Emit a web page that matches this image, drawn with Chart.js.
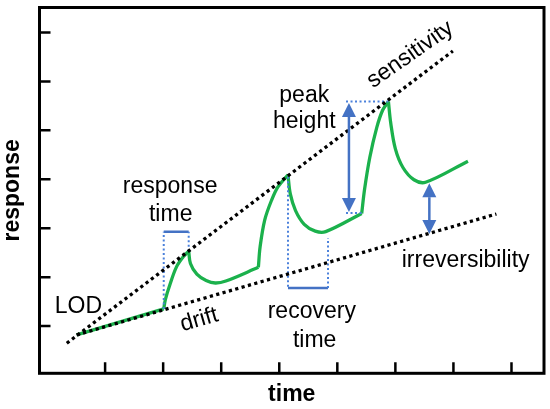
<!DOCTYPE html>
<html>
<head>
<meta charset="utf-8">
<script src="https://cdn.jsdelivr.net/npm/chart.js@4.4.1/dist/chart.umd.min.js"></script>
<style>
  html, body { margin: 0; padding: 0; background: #fff; }
  #wrap { width: 550px; height: 409px; }
</style>
</head>
<body>
<div id="wrap"><canvas id="chart"></canvas></div>
<script>
// tick positions (the original has tick marks but no tick labels)
const xTicks = [1, 2, 3, 4, 5, 6, 7, 8];
const yTicks = [1, 2, 3, 4, 5, 6, 7];

// green response trace, split at the sharp corners
const baseline = [[0.51, 0.82], [2.01, 1.35]];
const rise1 = [[2.01, 1.35], [2.04, 1.55], [2.12, 1.86], [2.23, 2.21], [2.35, 2.42], [2.44, 2.53]];
const decay1 = [[2.44, 2.53], [2.47, 2.28], [2.58, 2.06], [2.74, 1.93], [2.90, 1.88], [3.08, 1.92], [3.64, 2.20]];
const rise2 = [[3.64, 2.20], [3.67, 2.62], [3.75, 3.17], [3.87, 3.58], [3.98, 3.85], [4.15, 4.09]];
const decay2 = [[4.15, 4.09], [4.19, 3.70], [4.28, 3.36], [4.43, 3.08], [4.62, 2.94], [4.80, 2.93], [5.42, 3.30]];
const rise3 = [[5.42, 3.30], [5.47, 3.80], [5.56, 4.45], [5.68, 5.06], [5.78, 5.41], [5.88, 5.59]];
const decay3 = [[5.88, 5.59], [5.92, 5.15], [6.00, 4.62], [6.13, 4.24], [6.32, 3.99], [6.52, 3.94], [7.25, 4.37]];

// dotted reference lines
const sensitivity = [[0.34, 0.65], [6.99, 6.62]];
const drift = [[0.51, 0.82], [7.74, 3.29]];

// blue brackets
const respLeft = [[2.01, 1.35], [2.01, 2.93]];
const respRight = [[2.44, 2.53], [2.44, 2.93]];
const respTop = [[2.01, 2.93], [2.44, 2.93]];
const recLeft = [[4.15, 4.05], [4.15, 1.78]];
const recRight = [[4.84, 1.78], [4.84, 2.80]];
const recBottom = [[4.15, 1.78], [4.84, 1.78]];
const peakTop = [[5.15, 5.59], [5.88, 5.59]];
const peakBottom = [[5.15, 3.31], [5.42, 3.31]];

// double arrows: [x, top, bottom]
const peakArrow = [5.20, 5.56, 3.33];
const irrevArrow = [6.585, 3.92, 2.88];

// text labels (baseline centre, angle in degrees)
const notes = [
  { text: "response", x: 2.12, y: 3.72 },
  { text: "time", x: 2.13, y: 3.15 },
  { text: "peak", x: 4.43, y: 5.58 },
  { text: "height", x: 4.43, y: 5.05 },
  { text: "sensitivity", x: 6.32, y: 6.44, angle: -35 },
  { text: "LOD", x: 0.54, y: 1.27 },
  { text: "drift", x: 2.65, y: 1.00, angle: -16 },
  { text: "recovery", x: 4.56, y: 1.16 },
  { text: "time", x: 4.61, y: 0.57 },
  { text: "irreversibility", x: 7.21, y: 2.21 }
];

const GREEN = "#1bb14c";
const BLUE = "#4472c4";
const DOTBLUE = "#4a80db";
const FONT = '"Liberation Sans", Arial, sans-serif';

Chart.defaults.font.family = FONT;

const toXY = pts => pts.map(([x, y]) => ({ x, y }));

function trace(pts) {
    return { data: toXY(pts), borderColor: GREEN, borderWidth: 3.3, tension: 0.35,
             borderJoinStyle: "round", pointRadius: 0, showLine: true, fill: false };
}
function blackDots(pts) {
    return { data: toXY(pts), borderColor: "#000", borderWidth: 3.3, borderDash: [3.2, 3.4],
             pointRadius: 0, showLine: true, fill: false };
}
function blueDots(pts) {
    return { data: toXY(pts), borderColor: DOTBLUE, borderWidth: 2, borderDash: [2, 2.5],
             pointRadius: 0, showLine: true, fill: false };
}
function blueLine(pts) {
    return { data: toXY(pts), borderColor: BLUE, borderWidth: 2.5, pointRadius: 0, showLine: true, fill: false };
}

// frame, inward tick marks, arrows and labels
const decor = {
    id: "decor",
    afterDatasetsDraw(chart) {
        const { ctx, chartArea: a, scales: { x, y } } = chart;
        ctx.save();

        ctx.strokeStyle = "#000";
        ctx.lineWidth = 3;
        ctx.strokeRect(a.left, a.top, a.right - a.left, a.bottom - a.top);

        ctx.lineWidth = 2.5;
        ctx.beginPath();
        x.ticks.forEach(t => {
            const px = x.getPixelForValue(t.value);
            ctx.moveTo(px, a.bottom);
            ctx.lineTo(px, a.bottom - 11);
        });
        y.ticks.forEach(t => {
            const py = y.getPixelForValue(t.value);
            ctx.moveTo(a.left, py);
            ctx.lineTo(a.left + 11, py);
        });
        ctx.stroke();

        ctx.strokeStyle = BLUE;
        ctx.fillStyle = BLUE;
        [peakArrow, irrevArrow].forEach(([xv, y1, y2]) => {
            const px = x.getPixelForValue(xv);
            const top = y.getPixelForValue(y1);
            const bot = y.getPixelForValue(y2);
            const head = 14, half = 7;
            ctx.lineWidth = 2.5;
            ctx.beginPath();
            ctx.moveTo(px, top + head);
            ctx.lineTo(px, bot - head);
            ctx.stroke();
            ctx.beginPath();
            ctx.moveTo(px, top);
            ctx.lineTo(px - half, top + head);
            ctx.lineTo(px + half, top + head);
            ctx.closePath();
            ctx.fill();
            ctx.beginPath();
            ctx.moveTo(px, bot);
            ctx.lineTo(px - half, bot - head);
            ctx.lineTo(px + half, bot - head);
            ctx.closePath();
            ctx.fill();
        });

        ctx.fillStyle = "#000";
        ctx.font = "23px " + FONT;
        ctx.textAlign = "center";
        ctx.textBaseline = "alphabetic";
        notes.forEach(n => {
            ctx.save();
            ctx.translate(x.getPixelForValue(n.x), y.getPixelForValue(n.y));
            ctx.rotate((n.angle || 0) * Math.PI / 180);
            ctx.fillText(n.text, 0, 0);
            ctx.restore();
        });

        ctx.restore();
    }
};

new Chart(document.getElementById("chart"), {
    type: "scatter",
    data: {
        datasets: [
            blackDots(sensitivity),
            blackDots(drift),
            blueDots(respLeft), blueDots(respRight), blueLine(respTop),
            blueDots(recLeft), blueDots(recRight), blueLine(recBottom),
            blueDots(peakTop), blueDots(peakBottom),
            trace(baseline), trace(rise1), trace(decay1), trace(rise2),
            trace(decay2), trace(rise3), trace(decay3)
        ]
    },
    options: {
        responsive: true,
        maintainAspectRatio: false,
        animation: false,
        layout: { padding: { top: 7.5, right: 6, left: 0, bottom: 0 } },
        plugins: { legend: { display: false }, tooltip: { enabled: false } },
        scales: {
            x: {
                type: "linear", min: -0.13, max: 8.56,
                afterBuildTicks: s => { s.ticks = xTicks.map(v => ({ value: v })); },
                ticks: { display: false },
                grid: { display: false, drawTicks: false },
                border: { display: false },
                title: { display: true, text: "time", color: "#000",
                         font: { size: 23, weight: "bold" }, padding: { top: 7.9, bottom: 0.2 } }
            },
            y: {
                type: "linear", min: 0.035, max: 7.51,
                afterBuildTicks: s => { s.ticks = yTicks.map(v => ({ value: v })); },
                ticks: { display: false },
                grid: { display: false, drawTicks: false },
                border: { display: false },
                title: { display: true, text: "response", color: "#000",
                         font: { size: 23, weight: "bold" }, padding: { top: -1, bottom: 12.9 } }
            }
        }
    },
    plugins: [decor]
});
</script>
</body>
</html>
